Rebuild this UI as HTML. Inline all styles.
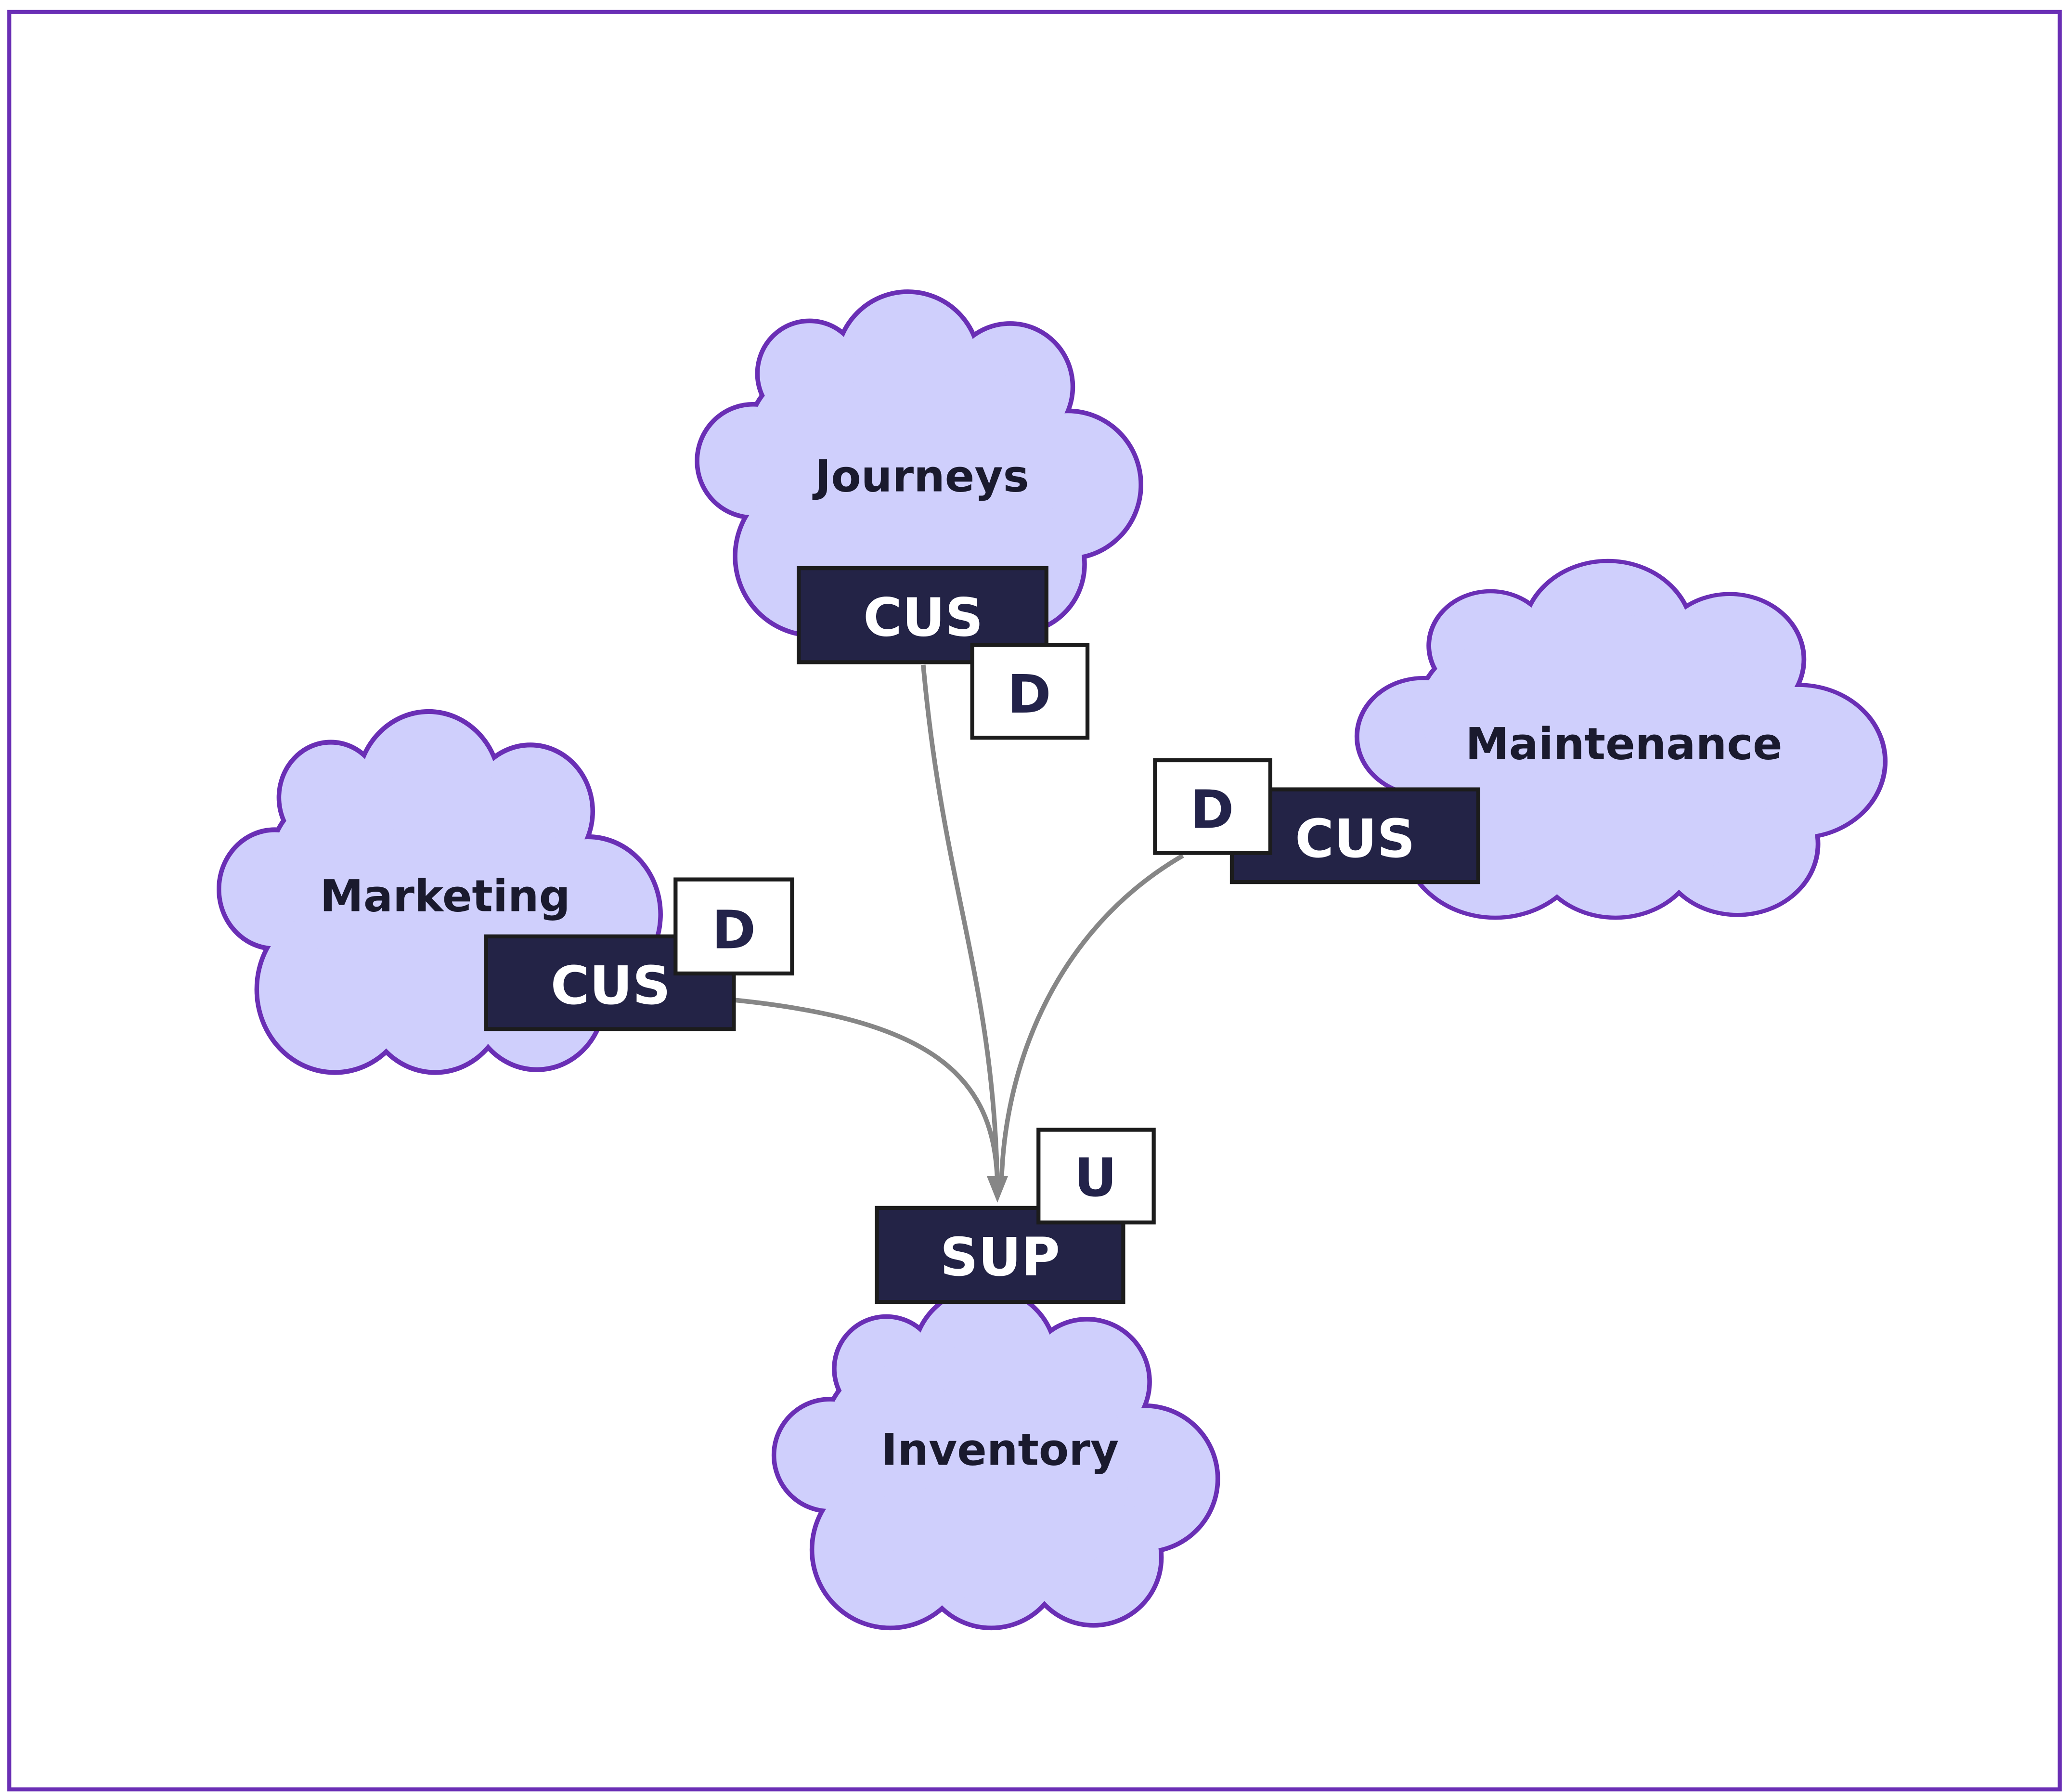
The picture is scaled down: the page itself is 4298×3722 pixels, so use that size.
<!DOCTYPE html>
<html><head><meta charset="utf-8"><style>html,body{margin:0;padding:0;background:#fff}svg{display:block}</style></head>
<body>
<svg width="4298" height="3722" viewBox="0 0 1562 1353" preserveAspectRatio="none" xmlns="http://www.w3.org/2000/svg">
<defs>
<g id="cs">
<circle cx="160" cy="55" r="53"/><circle cx="85" cy="62" r="38"/><circle cx="238" cy="72" r="46"/>
<circle cx="42" cy="128" r="41"/><circle cx="282" cy="146" r="54"/><circle cx="88" cy="200" r="58"/>
<circle cx="243" cy="206" r="50"/><circle cx="165" cy="205" r="53"/><circle cx="170" cy="140" r="100"/>
<circle cx="90" cy="110" r="50"/>
</g>
</defs>
<rect x="7" y="9" width="1548" height="1342" fill="#fff" stroke="#6a2fb5" stroke-width="3"/>
<g>
<g transform="translate(527,220) scale(0.99,1)"><use href="#cs" fill="none" stroke="#6a2fb5" stroke-width="7"/><use href="#cs" fill="#cfcffc"/></g>
<g transform="translate(585,972) scale(0.99,0.99)"><use href="#cs" fill="none" stroke="#6a2fb5" stroke-width="7"/><use href="#cs" fill="#cfcffc"/></g>
<g transform="translate(166,537) scale(0.985,1.05)"><use href="#cs" fill="none" stroke="#6a2fb5" stroke-width="7"/><use href="#cs" fill="#cfcffc"/></g>
<g transform="translate(1025,423) scale(1.18,1.04)"><use href="#cs" fill="none" stroke="#6a2fb5" stroke-width="6"/><use href="#cs" fill="#cfcffc"/></g>
</g>
<g font-family="'DejaVu Sans','Liberation Sans',sans-serif" font-weight="bold" text-anchor="middle" fill="#1a1a2e" font-size="33">
<text x="696" y="371">Journeys</text>
<text x="336" y="688">Marketing</text>
<text x="1226" y="573">Maintenance</text>
<text x="755" y="1106">Inventory</text>
</g>
<g fill="none" stroke="#868686" stroke-width="3.5">
<path d="M697,502 C712,670 750,740 753,895"/>
<path d="M554,755 C700,770 752,810 753,895"/>
<path d="M893,646 C800,700 758,800 756,895"/>
</g>
<polygon points="745,888 761,888 753,908" fill="#868686"/>
<g stroke="#1c1c1c" stroke-width="3">
<rect x="603" y="429" width="187" height="71" fill="#232346"/>
<rect x="734" y="487" width="87" height="70" fill="#fff"/>
<rect x="367" y="707" width="187" height="70" fill="#232346"/>
<rect x="510" y="664" width="88" height="71" fill="#fff"/>
<rect x="930" y="596" width="186" height="70" fill="#232346"/>
<rect x="872" y="574" width="87" height="70" fill="#fff"/>
<rect x="662" y="912" width="186" height="71" fill="#232346"/>
<rect x="784" y="853" width="87" height="70" fill="#fff"/>
</g>
<g font-family="'DejaVu Sans','Liberation Sans',sans-serif" font-weight="bold" text-anchor="middle" font-size="40">
<text x="697" y="480" fill="#fff">CUS</text>
<text x="461" y="758" fill="#fff">CUS</text>
<text x="1023" y="647" fill="#fff">CUS</text>
<text x="755" y="963" fill="#fff">SUP</text>
<text x="777" y="538" fill="#23234a">D</text>
<text x="554" y="716" fill="#23234a">D</text>
<text x="915" y="625" fill="#23234a">D</text>
<text x="827" y="903" fill="#23234a">U</text>
</g>
</svg>
</body></html>
